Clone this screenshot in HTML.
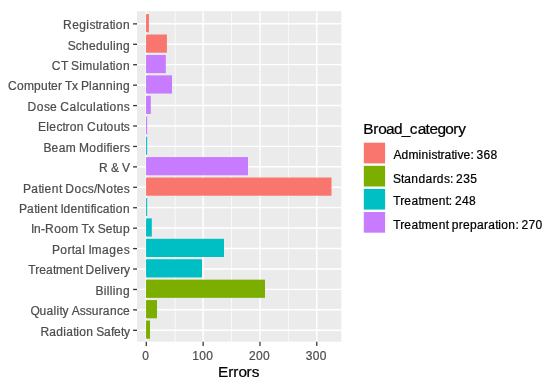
<!DOCTYPE html><html><head><meta charset="utf-8"><style>html,body{margin:0;padding:0;background:#fff;}svg{display:block;}text{font-family:"Liberation Sans",Arial,sans-serif;stroke-width:0.22px;stroke:currentColor;}</style></head><body>
<svg width="550" height="386" viewBox="0 0 550 386">
<rect x="0" y="0" width="550" height="386" fill="#fff"/>
<rect x="137.0" y="11.20" width="204.40" height="330.50" fill="#EBEBEB"/>
<line x1="175.22" y1="11.20" x2="175.22" y2="341.70" stroke="#fff" stroke-width="0.71"/>
<line x1="231.55" y1="11.20" x2="231.55" y2="341.70" stroke="#fff" stroke-width="0.71"/>
<line x1="288.38" y1="11.20" x2="288.38" y2="341.70" stroke="#fff" stroke-width="0.71"/>
<line x1="146.30" y1="11.20" x2="146.30" y2="341.70" stroke="#fff" stroke-width="1.42"/>
<line x1="203.13" y1="11.20" x2="203.13" y2="341.70" stroke="#fff" stroke-width="1.42"/>
<line x1="259.96" y1="11.20" x2="259.96" y2="341.70" stroke="#fff" stroke-width="1.42"/>
<line x1="316.79" y1="11.20" x2="316.79" y2="341.70" stroke="#fff" stroke-width="1.42"/>
<line x1="137.0" y1="23.77" x2="341.4" y2="23.77" stroke="#fff" stroke-width="1.42"/>
<line x1="137.0" y1="44.20" x2="341.4" y2="44.20" stroke="#fff" stroke-width="1.42"/>
<line x1="137.0" y1="64.63" x2="341.4" y2="64.63" stroke="#fff" stroke-width="1.42"/>
<line x1="137.0" y1="85.06" x2="341.4" y2="85.06" stroke="#fff" stroke-width="1.42"/>
<line x1="137.0" y1="105.49" x2="341.4" y2="105.49" stroke="#fff" stroke-width="1.42"/>
<line x1="137.0" y1="125.92" x2="341.4" y2="125.92" stroke="#fff" stroke-width="1.42"/>
<line x1="137.0" y1="146.35" x2="341.4" y2="146.35" stroke="#fff" stroke-width="1.42"/>
<line x1="137.0" y1="166.78" x2="341.4" y2="166.78" stroke="#fff" stroke-width="1.42"/>
<line x1="137.0" y1="187.21" x2="341.4" y2="187.21" stroke="#fff" stroke-width="1.42"/>
<line x1="137.0" y1="207.64" x2="341.4" y2="207.64" stroke="#fff" stroke-width="1.42"/>
<line x1="137.0" y1="228.07" x2="341.4" y2="228.07" stroke="#fff" stroke-width="1.42"/>
<line x1="137.0" y1="248.50" x2="341.4" y2="248.50" stroke="#fff" stroke-width="1.42"/>
<line x1="137.0" y1="268.93" x2="341.4" y2="268.93" stroke="#fff" stroke-width="1.42"/>
<line x1="137.0" y1="289.36" x2="341.4" y2="289.36" stroke="#fff" stroke-width="1.42"/>
<line x1="137.0" y1="309.79" x2="341.4" y2="309.79" stroke="#fff" stroke-width="1.42"/>
<line x1="137.0" y1="330.22" x2="341.4" y2="330.22" stroke="#fff" stroke-width="1.42"/>
<rect x="146.05" y="14.07" width="2.85" height="18.20" fill="#F8766D"/>
<rect x="146.05" y="34.50" width="20.85" height="18.20" fill="#F8766D"/>
<rect x="146.05" y="54.93" width="19.75" height="18.20" fill="#C77CFF"/>
<rect x="146.05" y="75.36" width="25.95" height="18.20" fill="#C77CFF"/>
<rect x="146.05" y="95.79" width="4.75" height="18.20" fill="#C77CFF"/>
<rect x="146.05" y="116.22" width="1.10" height="18.20" fill="#C77CFF"/>
<rect x="146.05" y="136.65" width="1.10" height="18.20" fill="#00BFC4"/>
<rect x="146.05" y="157.08" width="101.95" height="18.20" fill="#C77CFF"/>
<rect x="146.05" y="177.51" width="185.45" height="18.20" fill="#F8766D"/>
<rect x="146.05" y="197.94" width="1.10" height="18.20" fill="#00BFC4"/>
<rect x="146.05" y="218.37" width="5.75" height="18.20" fill="#00BFC4"/>
<rect x="146.05" y="238.80" width="77.95" height="18.20" fill="#00BFC4"/>
<rect x="146.05" y="259.23" width="55.95" height="18.20" fill="#00BFC4"/>
<rect x="146.05" y="279.66" width="118.95" height="18.20" fill="#7CAE00"/>
<rect x="146.05" y="300.09" width="10.95" height="18.20" fill="#7CAE00"/>
<rect x="146.05" y="320.52" width="3.95" height="18.20" fill="#7CAE00"/>
<line x1="133.10" y1="23.87" x2="137.0" y2="23.87" stroke="#333" stroke-width="1.3"/>
<text x="63.02 72.15 79.25 86.36 89.4 95.49 98.54 102.6 109.7 112.75 115.79 122.9" y="29.07" font-size="12" fill="#4D4D4D" color="#4D4D4D">Registration</text>
<line x1="133.10" y1="44.30" x2="137.0" y2="44.30" stroke="#333" stroke-width="1.3"/>
<text x="67.86 75.87 81.89 88.9 95.92 102.94 109.95 112.96 115.97 122.98" y="49.50" font-size="12" fill="#4D4D4D" color="#4D4D4D">Scheduling</text>
<line x1="133.10" y1="64.73" x2="137.0" y2="64.73" stroke="#333" stroke-width="1.3"/>
<text x="51.79 60.93 68.04 71.09 79.21 82.26 92.42 99.53 102.58 109.69 112.73 115.78 122.89" y="69.93" font-size="12" fill="#4D4D4D" color="#4D4D4D">CT Simulation</text>
<line x1="133.10" y1="85.16" x2="137.0" y2="85.16" stroke="#333" stroke-width="1.3"/>
<text x="7.89 16.9 23.9 33.91 40.92 47.93 50.93 57.94 61.94 64.94 71.95 77.95 80.96 88.96 91.97 98.97 105.98 112.98 115.99 122.99" y="90.36" font-size="12" fill="#4D4D4D" color="#4D4D4D">Computer Tx Planning</text>
<line x1="133.10" y1="105.59" x2="137.0" y2="105.59" stroke="#333" stroke-width="1.3"/>
<text x="27.52 36.74 43.91 50.06 57.24 60.31 69.53 76.71 79.78 85.93 93.11 96.18 103.35 106.43 109.5 116.68 123.85" y="110.79" font-size="12" fill="#4D4D4D" color="#4D4D4D">Dose Calculations</text>
<line x1="133.10" y1="126.02" x2="137.0" y2="126.02" stroke="#333" stroke-width="1.3"/>
<text x="38.02 46.19 49.26 56.41 62.54 65.61 69.7 76.85 84.01 87.07 96.27 103.43 106.49 113.65 120.8 123.87" y="131.22" font-size="12" fill="#4D4D4D" color="#4D4D4D">Electron Cutouts</text>
<line x1="133.10" y1="146.45" x2="137.0" y2="146.45" stroke="#333" stroke-width="1.3"/>
<text x="43.42 51.56 58.7 65.83 76.01 79.07 89.25 96.38 103.52 106.57 109.63 112.68 119.81 123.89" y="151.65" font-size="12" fill="#4D4D4D" color="#4D4D4D">Beam Modifiers</text>
<line x1="133.10" y1="166.88" x2="137.0" y2="166.88" stroke="#333" stroke-width="1.3"/>
<text x="99.02 108.01 111.01 119.01 122" y="172.08" font-size="12" fill="#4D4D4D" color="#4D4D4D">R &amp; V</text>
<line x1="133.10" y1="187.31" x2="137.0" y2="187.31" stroke="#333" stroke-width="1.3"/>
<text x="23.02 31.25 38.45 41.53 44.62 51.82 59.02 62.11 65.19 74.45 81.65 87.82 94 97.08 106.34 113.54 116.63 123.83" y="192.51" font-size="12" fill="#4D4D4D" color="#4D4D4D">Patient Docs/Notes</text>
<line x1="133.10" y1="207.74" x2="137.0" y2="207.74" stroke="#333" stroke-width="1.3"/>
<text x="19.02 27.09 34.15 37.18 40.2 47.27 54.33 57.36 60.38 63.41 70.47 77.53 84.6 87.62 90.65 93.68 96.7 102.76 109.82 112.85 115.87 122.94" y="212.94" font-size="12" fill="#4D4D4D" color="#4D4D4D">Patient Identification</text>
<line x1="133.10" y1="228.17" x2="137.0" y2="228.17" stroke="#333" stroke-width="1.3"/>
<text x="30.89 33.93 41.01 45.05 54.15 61.23 68.31 78.42 81.46 88.54 94.6 97.64 105.73 112.81 115.84 122.92" y="233.37" font-size="12" fill="#4D4D4D" color="#4D4D4D">In-Room Tx Setup</text>
<line x1="133.10" y1="248.60" x2="137.0" y2="248.60" stroke="#333" stroke-width="1.3"/>
<text x="52.02 60.33 67.61 71.77 74.89 82.17 85.29 88.41 91.53 101.93 109.2 116.48 123.76" y="253.80" font-size="12" fill="#4D4D4D" color="#4D4D4D">Portal Images</text>
<line x1="133.10" y1="269.03" x2="137.0" y2="269.03" stroke="#333" stroke-width="1.3"/>
<text x="28.33 35.24 39.19 46.1 53.01 55.97 65.84 72.75 79.66 82.62 85.58 94.47 101.37 104.34 107.3 113.22 120.13 124.08" y="274.23" font-size="12" fill="#4D4D4D" color="#4D4D4D">Treatment Delivery</text>
<line x1="133.10" y1="289.46" x2="137.0" y2="289.46" stroke="#333" stroke-width="1.3"/>
<text x="95.62 103.71 106.74 109.77 112.81 115.84 122.92" y="294.66" font-size="12" fill="#4D4D4D" color="#4D4D4D">Billing</text>
<line x1="133.10" y1="309.89" x2="137.0" y2="309.89" stroke="#333" stroke-width="1.3"/>
<text x="30.43 39.48 46.52 53.56 56.58 59.6 62.62 68.65 71.67 79.71 85.75 91.78 98.82 102.84 109.89 116.93 122.96" y="315.09" font-size="12" fill="#4D4D4D" color="#4D4D4D">Quality Assurance</text>
<line x1="133.10" y1="330.32" x2="137.0" y2="330.32" stroke="#333" stroke-width="1.3"/>
<text x="40.42 49.37 56.34 63.31 66.3 73.26 76.25 79.24 86.2 93.17 96.16 104.12 111.09 114.07 121.04 124.03" y="335.52" font-size="12" fill="#4D4D4D" color="#4D4D4D">Radiation Safety</text>
<line x1="146.30" y1="341.70" x2="146.30" y2="345.90" stroke="#333" stroke-width="1.25"/>
<text x="142.3" y="360.00" font-size="12" fill="#4D4D4D" color="#4D4D4D">0</text>
<line x1="203.13" y1="341.70" x2="203.13" y2="345.90" stroke="#333" stroke-width="1.25"/>
<text x="192.13 199.13 206.13" y="360.00" font-size="12" fill="#4D4D4D" color="#4D4D4D">100</text>
<line x1="259.96" y1="341.70" x2="259.96" y2="345.90" stroke="#333" stroke-width="1.25"/>
<text x="248.96 255.96 262.96" y="360.00" font-size="12" fill="#4D4D4D" color="#4D4D4D">200</text>
<line x1="316.79" y1="341.70" x2="316.79" y2="345.90" stroke="#333" stroke-width="1.25"/>
<text x="305.79 312.79 319.79" y="360.00" font-size="12" fill="#4D4D4D" color="#4D4D4D">300</text>
<text x="218 228.2 233.29 238.39 246.55 251.64" y="376.80" font-size="15.4" fill="#000" color="#000">Errors</text>
<text x="363.3 373.18 378.13 386.03 393.94 401.85 409.76 417.67 425.57 429.53 437.43 445.34 453.25 458.19" y="133.50" font-size="15.4" fill="#000" color="#000">Broad_category</text>
<rect x="363.8" y="142.70" width="21.3" height="20.7" fill="#F8766D"/>
<text x="393.48 401.48 408.48 418.49 421.49 428.49 431.49 437.5 440.5 444.5 451.5 454.5 457.5 463.51 470.51 473.51 476.51 483.52 490.52" y="158.90" font-size="12" fill="#000" color="#000">Administrative: 368</text>
<rect x="363.8" y="165.80" width="21.3" height="20.7" fill="#7CAE00"/>
<text x="392.96 401.1 404.16 411.29 418.42 425.55 432.68 436.76 443.89 450 453.06 456.11 463.24 470.37" y="182.50" font-size="12" fill="#000" color="#000">Standards: 235</text>
<rect x="363.8" y="188.90" width="21.3" height="20.7" fill="#00BFC4"/>
<text x="393.23 400.31 404.35 411.43 418.5 421.53 431.64 438.72 445.8 448.83 451.86 454.89 461.97 469.05" y="205.40" font-size="12" fill="#000" color="#000">Treatment: 248</text>
<rect x="363.8" y="212.00" width="21.3" height="20.7" fill="#C77CFF"/>
<text x="393.23 400.3 404.34 411.41 418.47 421.5 431.6 438.67 445.74 448.76 451.79 458.86 462.9 469.97 477.04 484.11 488.14 495.21 498.24 501.27 508.34 515.41 518.44 521.46 528.53 535.6" y="228.90" font-size="12" fill="#000" color="#000">Treatment preparation: 270</text>
</svg></body></html>
